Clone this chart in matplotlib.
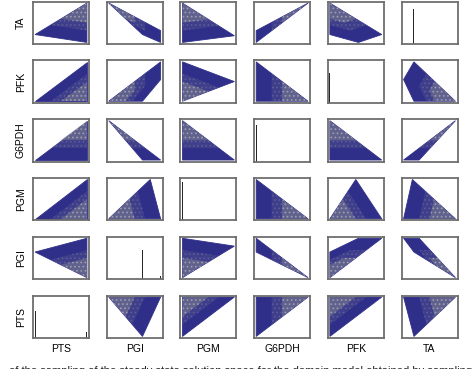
import matplotlib
matplotlib.use('Agg')
import matplotlib.pyplot as plt

plt.rcParams['font.family'] = ['Liberation Sans', 'DejaVu Sans']
plt.rcParams['hatch.linewidth'] = 0.8

# Fluxes (order of columns; rows are drawn in reverse order)
fluxes = ['PTS', 'PGI', 'PGM', 'G6PDH', 'PFK', 'TA']

# Extreme points of the sampled solution space (relative flux, one entry per vertex A-F)
pts = [0.00, 1.00, 1.00, 1.00, 1.00, 1.00]
pgi = [0.65, 0.00, 0.80, 1.00, 1.00, 1.00]
pgm = [0.00, 0.00, 1.00, 0.00, 0.00, 0.00]
g6pdh = [0.00, 1.00, 0.00, 0.00, 0.00, 0.00]
pfk = [0.00, 0.00, 0.50, 1.00, 0.55, 0.75]
ta = [0.20, 1.00, 0.17, 0.20, 0.00, 0.30]
sparse_vertex = 1  # vertex B, the region around it is sampled sparsely

# Histograms on the diagonal (bin position, relative count)
pts_hist = ([0.00, 1.00], [0.63, 0.15])
pgi_hist = ([0.65, 1.00], [0.68, 0.08])
pgm_hist = ([0.00], [0.90])
g6pdh_hist = ([0.00], [0.86])
pfk_hist = ([0.00, 1.00], [0.71, 0.02])
ta_hist = ([0.20], [0.82])

data = dict(zip(fluxes, [pts, pgi, pgm, g6pdh, pfk, ta]))
hists = dict(zip(fluxes, [pts_hist, pgi_hist, pgm_hist, g6pdh_hist, pfk_hist, ta_hist]))

blue = '#2f2f8a'
frame = '#6e6e6e'


def hull(points):
    pts_ = sorted(set(points))
    if len(pts_) < 3:
        return pts_
    def cross(o, a, b):
        return (a[0] - o[0]) * (b[1] - o[1]) - (a[1] - o[1]) * (b[0] - o[0])
    lower, upper = [], []
    for p in pts_:
        while len(lower) >= 2 and cross(lower[-2], lower[-1], p) <= 0:
            lower.pop()
        lower.append(p)
    for p in reversed(pts_):
        while len(upper) >= 2 and cross(upper[-2], upper[-1], p) <= 0:
            upper.pop()
        upper.append(p)
    return lower[:-1] + upper[:-1]


def speckle(ax, xs, ys, t, alpha):
    bx, by = xs[sparse_vertex], ys[sparse_vertex]
    sub = hull([(bx + t * (x - bx), by + t * (y - by)) for x, y in zip(xs, ys)])
    if len(sub) < 3:
        return
    sx, sy = zip(*sub)
    ax.fill(sx, sy, facecolor='#7e7e92', alpha=alpha, linewidth=0)
    ax.fill(sx, sy, facecolor='none', edgecolor='#b4b4bc', hatch='....',
            linewidth=0, alpha=alpha)


fig = plt.figure(figsize=(4.74, 3.69), dpi=100)
W, H = 474, 369
left0, colstep, aw = 33, 73.7, 56
top0, rowstep, ah = 1.5, 58.8, 42.5
rows = fluxes[::-1]

for r, yname in enumerate(rows):
    for c, xname in enumerate(fluxes):
        ax = fig.add_axes([(left0 + c * colstep) / W,
                           1 - (top0 + r * rowstep + ah) / H,
                           aw / W, ah / H])
        xs = data[xname]
        ys = data[yname]
        if xname == yname:
            pos, cnt = hists[xname]
            ax.bar(pos, cnt, width=0.018, color='#262626', linewidth=0)
            ax.set_ylim(0, 1)
        else:
            poly = hull(list(zip(xs, ys)))
            px, py = zip(*poly)
            ax.fill(px, py, color=blue, linewidth=0.6, edgecolor=blue)
            speckle(ax, xs, ys, 0.7, 0.2)
            speckle(ax, xs, ys, 0.5, 0.55)
            ax.set_ylim(-0.04, 1.04)
        ax.set_xlim(-0.04, 1.04)
        ax.set_xticks([])
        ax.set_yticks([])
        for s in ax.spines.values():
            s.set_color(frame)
            s.set_linewidth(1.3)
        if c == 0:
            fig.text(21 / W, 1 - (top0 + r * rowstep + ah / 2) / H, yname,
                     rotation=90, ha='center', va='center', fontsize=7.5)
        if r == len(rows) - 1:
            fig.text((left0 + c * colstep + aw / 2) / W, 1 - 349 / H, xname,
                     ha='center', va='center', fontsize=7.5)

fig.text(9 / W, 1 - 366 / H,
         'of the sampling of the steady state solution space for the domain model obtained by sampling the linear',
         ha='left', va='top', fontsize=8, color='#222222')

fig.savefig('out.png', dpi=100)
